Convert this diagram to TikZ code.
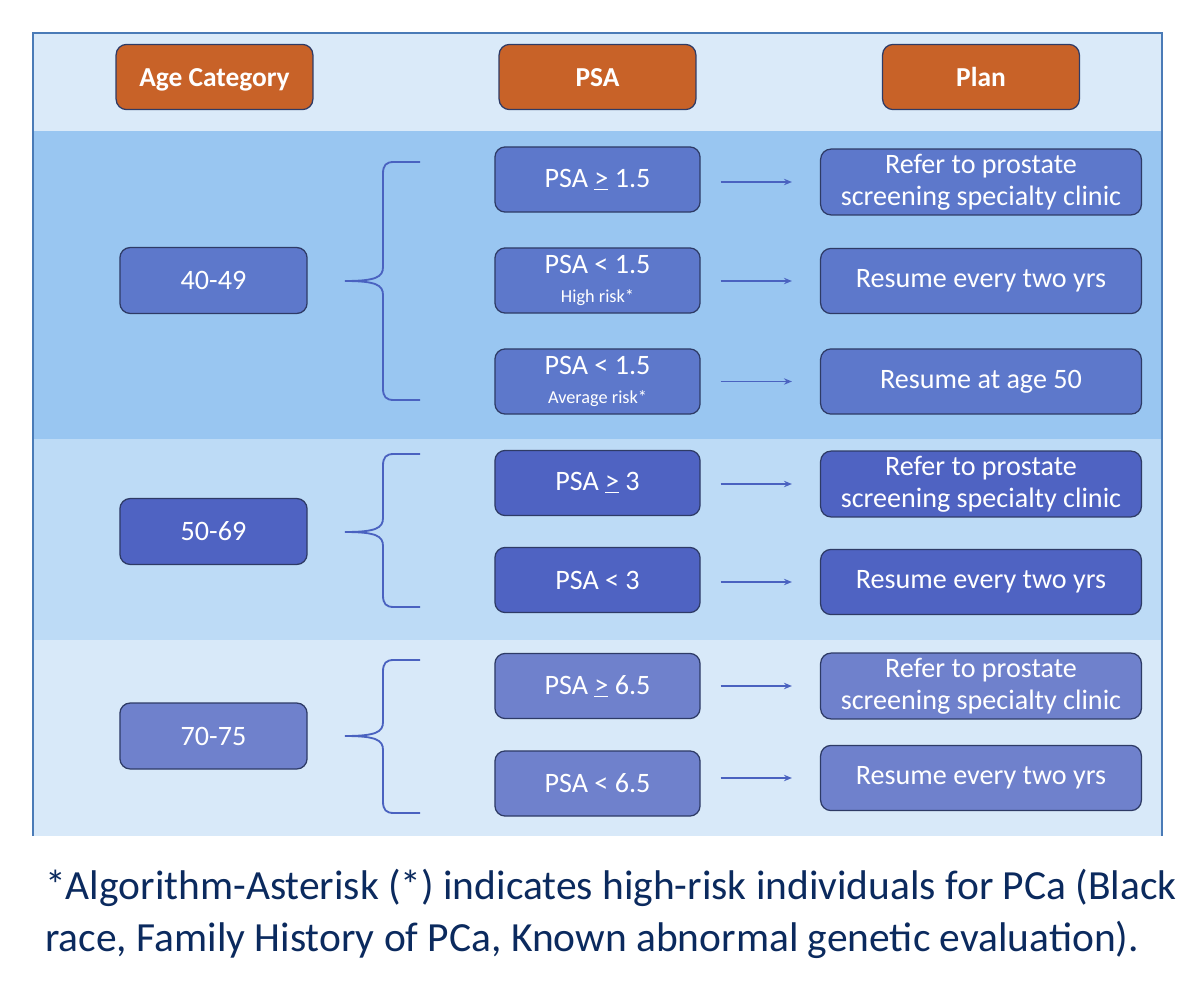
\documentclass[tikz,border=0pt]{standalone}
\usepackage{fontspec}
\setmainfont{Carlito}
\usetikzlibrary{positioning, arrows.meta, calc}
\definecolor{psaOrange}{HTML}{C86228}
\definecolor{psaFrame}{HTML}{4A7BB7}
\definecolor{psaHeadBand}{HTML}{DAEAF9}
\definecolor{psaBandA}{HTML}{99C6F1}
\definecolor{psaBandB}{HTML}{BDDBF6}
\definecolor{psaBandC}{HTML}{D8E9F9}
\definecolor{psaBoxA}{HTML}{5D78CB}
\definecolor{psaBoxB}{HTML}{4F63C2}
\definecolor{psaBoxC}{HTML}{6F81CC}
\definecolor{psaEdge}{HTML}{2E3B66}
\definecolor{psaLine}{HTML}{4A62C0}
\definecolor{psaNavy}{HTML}{0B2A5E}
\newcommand{\riskfont}{\fontsize{13}{15}\selectfont}

\begin{document}
\begin{tikzpicture}[
    x=0.25mm, y=-0.25mm,
    header/.style={
        draw=psaEdge, line width=0.9pt, rounded corners=2.6mm,
        fill=psaOrange, minimum height=16.3mm, minimum width=49.2mm,
        text height=17pt, text depth=4pt,
        text=white, font=\fontsize{19.5}{23}\selectfont\bfseries
    },
    agebox/.style={
        draw=psaEdge, line width=0.9pt, rounded corners=2.6mm,
        minimum height=16.5mm, minimum width=46.8mm,
        align=center, text=white, font=\fontsize{20}{23}\selectfont
    },
    psabox/.style={agebox, minimum width=51.3mm, minimum height=16.3mm},
    planbox/.style={agebox, minimum width=80.2mm, minimum height=16.3mm},
    arrow/.style={-{Stealth[length=2mm, width=1.6mm]}, line width=1.2pt, draw=psaLine, shorten <=5mm, shorten >=7mm},
    brace/.style={line width=1.3pt, draw=psaLine},
]
\useasboundingbox (0,0) rectangle (1200,990);

% bands and frame
\fill[psaHeadBand] (33,33) rectangle (1162,131);
\fill[psaBandA] (33,131) rectangle (1162,439);
\fill[psaBandB] (33,439) rectangle (1162,640);
\fill[psaBandC] (33,640) rectangle (1162,836);
\draw[line width=2pt, draw=psaFrame] (33,836) -- (33,33) -- (1162,33) -- (1162,836);

% Column headers
\node[header] (hage)  at (214.5,77) {Age Category};
\node[header] (hpsa)  at (597.5,77) {PSA};
\node[header] (hplan) at (981,77)   {Plan};

% Age 40-49
\node[agebox, fill=psaBoxA] (age1) at (213.5,280.5) {40-49};
\node[psabox, fill=psaBoxA] (psa1a) at (597.5,179.5) {PSA \underline{>} 1.5};
\node[psabox, fill=psaBoxA] (psa1b) at (597.5,280.5) {PSA < 1.5\\[-3pt] {\riskfont High risk*}};
\node[psabox, fill=psaBoxA] (psa1c) at (597.5,381.5) {PSA < 1.5\\[-3pt] {\riskfont Average risk*}};
\node[planbox, fill=psaBoxA] (plan1a) at (981,182) {Refer to prostate\\screening specialty clinic};
\node[planbox, fill=psaBoxA] (plan1b) at (981,281) {Resume every two yrs};
\node[planbox, fill=psaBoxA] (plan1c) at (981,381.5) {Resume at age 50};

% Age 50-69
\node[agebox, fill=psaBoxB] (age2) at (213.5,531.5) {50-69};
\node[psabox, fill=psaBoxB] (psa2a) at (597.5,483) {PSA \underline{>} 3};
\node[psabox, fill=psaBoxB] (psa2b) at (597.5,580) {PSA < 3};
\node[planbox, fill=psaBoxB] (plan2a) at (981,484) {Refer to prostate\\screening specialty clinic};
\node[planbox, fill=psaBoxB] (plan2b) at (981,582) {Resume every two yrs};

% Age 70-75
\node[agebox, fill=psaBoxC] (age3) at (213.5,736) {70-75};
\node[psabox, fill=psaBoxC] (psa3a) at (597.5,686) {PSA \underline{>} 6.5};
\node[psabox, fill=psaBoxC] (psa3b) at (597.5,783.5) {PSA < 6.5};
\node[planbox, fill=psaBoxC] (plan3a) at (981,686) {Refer to prostate\\screening specialty clinic};
\node[planbox, fill=psaBoxC] (plan3b) at (981,778) {Resume every two yrs};

% Braces
\foreach \tipy/\topy/\boty in {281/162/400, 532/454/607, 736/660/813} {
    \draw[brace] (420,\topy) -- (394,\topy) .. controls (386,\topy) and (383,\topy+3) .. (383,\topy+12)
        -- (383,\tipy-14) .. controls (383,\tipy-4) and (376,\tipy) .. (345,\tipy)
        .. controls (376,\tipy) and (383,\tipy+4) .. (383,\tipy+14)
        -- (383,\boty-12) .. controls (383,\boty-3) and (386,\boty) .. (394,\boty) -- (420,\boty);
}

% Arrows
\foreach \p/\q in {psa1a/plan1a, psa1b/plan1b, psa1c/plan1c, psa2a/plan2a, psa2b/plan2b, psa3a/plan3a, psa3b/plan3b} {
    \draw[arrow] (\p.east |- \q.west) -- (\q.west);
}

% Footnote
\node[anchor=base west, align=left, inner sep=0pt, text=psaNavy,
      font=\fontsize{29.5}{36.3}\selectfont] (note) at (45,951) {%
    *Algorithm-Asterisk (*) indicates high-risk individuals for PCa (Black\\
    race, Family History of PCa, Known abnormal genetic evaluation).};

\end{tikzpicture}
\end{document}
